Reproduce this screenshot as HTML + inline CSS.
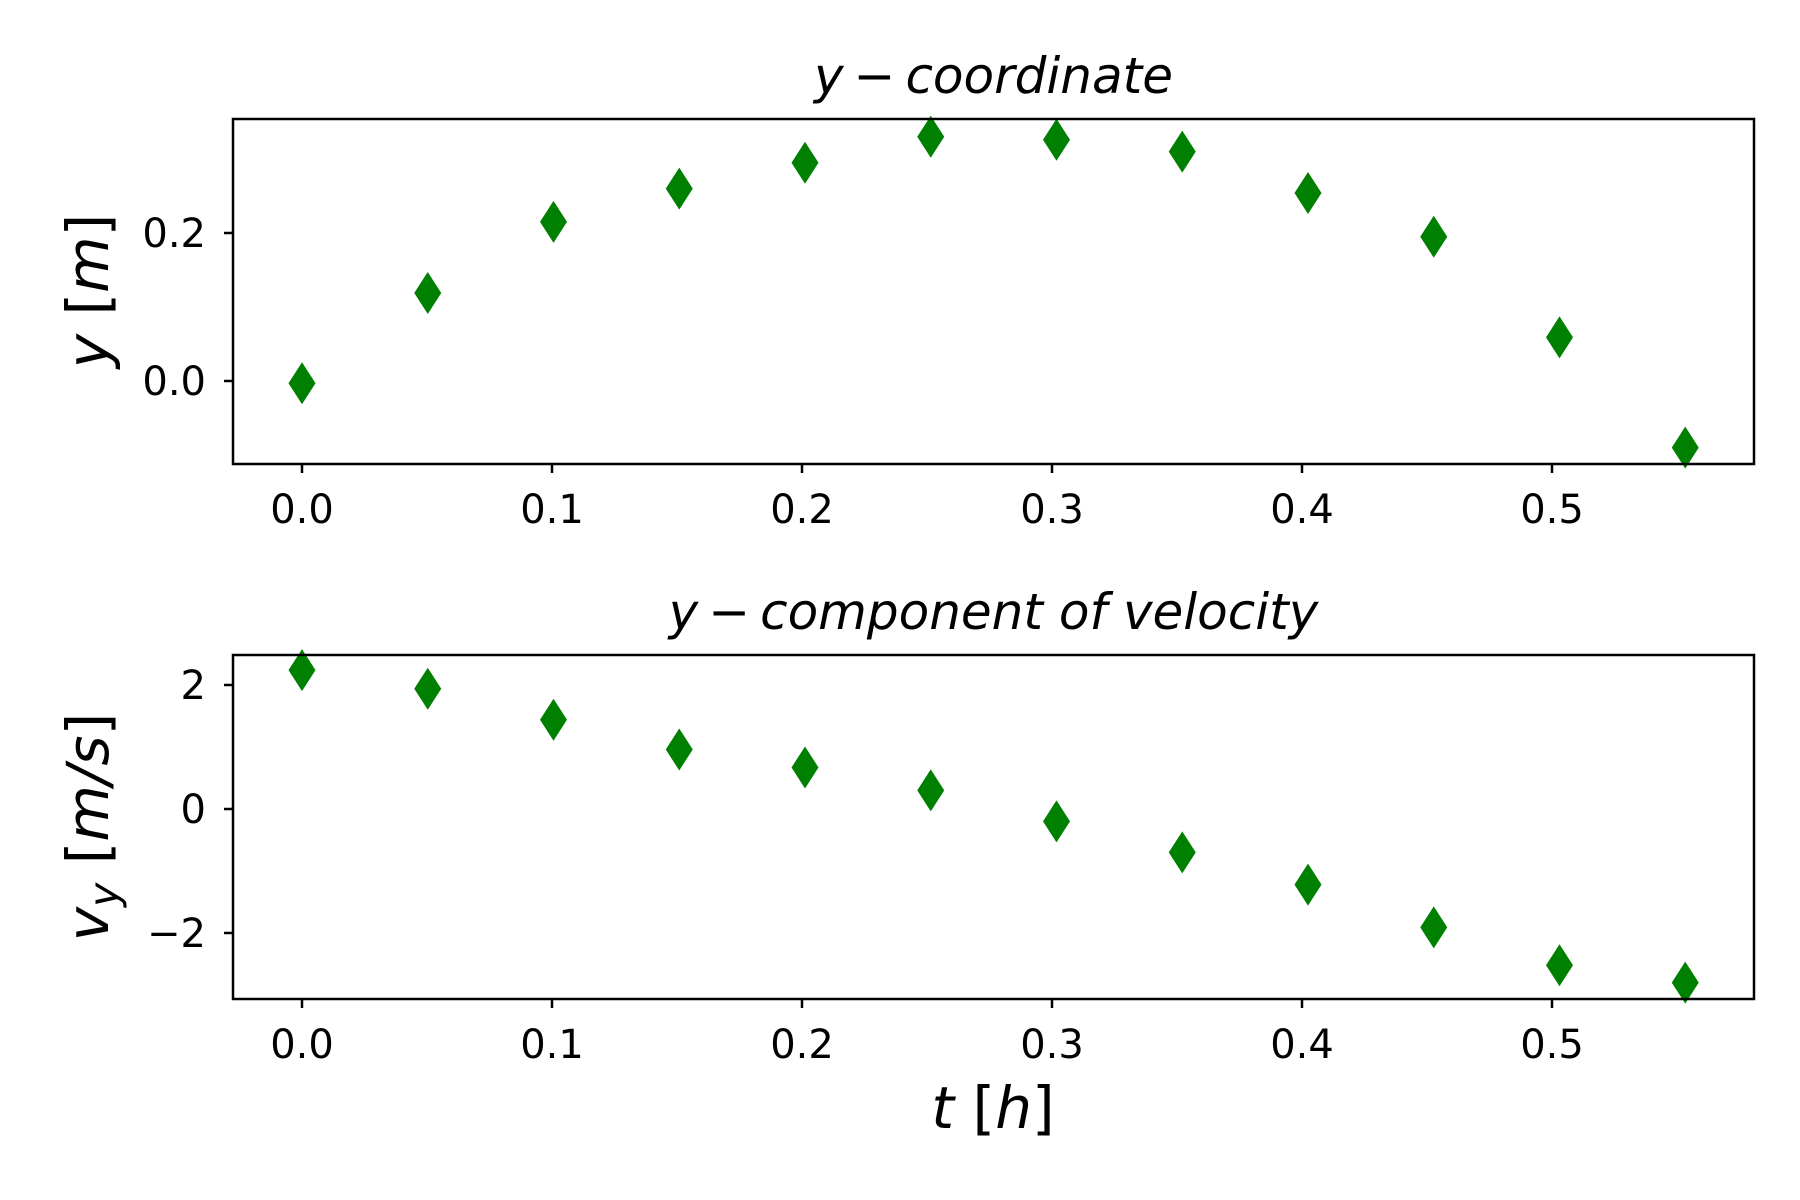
<!DOCTYPE html>
<html><head><meta charset="utf-8"><style>
html,body{margin:0;padding:0;background:#fff;}
svg{display:block;font-family:"DejaVu Sans","Liberation Sans",sans-serif;}
</style></head><body>
<svg id="fig" width="1800" height="1200" viewBox="0 0 1800 1200" xmlns="http://www.w3.org/2000/svg">
<rect width="1800" height="1200" fill="#fff"/>
</svg>
<script>
const tValues = [0, 0.0503, 0.1006, 0.1509, 0.2012, 0.2515, 0.3018, 0.3521, 0.4024, 0.4527, 0.503, 0.5533];
const yValues = [-0.003, 0.119, 0.215, 0.260, 0.295, 0.330, 0.326, 0.310, 0.254, 0.195, 0.059, -0.090];
const vyValues = [2.24, 1.94, 1.44, 0.96, 0.67, 0.30, -0.20, -0.70, -1.22, -1.91, -2.52, -2.80];
const xTicks = [0, 0.1, 0.2, 0.3, 0.4, 0.5];
const xTickLabels = ["0.0","0.1","0.2","0.3","0.4","0.5"];
const yTicksTop = [0, 0.2];
const yTickLabelsTop = ["0.0","0.2"];
const yTicksBot = [-2, 0, 2];
const yTickLabelsBot = ["\u22122","0","2"];

const NS="http://www.w3.org/2000/svg";
const svg=document.getElementById('fig');
function mk(tag,attrs,parent){const e=document.createElementNS(NS,tag);for(const k in attrs)e.setAttribute(k,attrs[k]);(parent||svg).appendChild(e);return e;}
const L=233,R=1754;
const xS=v=>302+v*2500;
function panel(name,top,bot,y0px,pxPerUnit,vals,yt,ytl,title,titleY,tickBase){
  const g=mk('g',{});
  
  
  const yS=v=>y0px-v*pxPerUnit;
  vals.forEach((v,i)=>{
    const cx=xS(tValues[i]),cy=yS(v);
    const p=mk('polygon',{points:`${cx},${cy-21} ${cx+13.5},${cy} ${cx},${cy+21} ${cx-13.5},${cy}`,fill:'#008000'},g);
    
    
  });
  const fr=mk('rect',{x:L,y:top,width:R-L,height:bot-top,fill:'none',stroke:'#000','stroke-width':2.5},g);
  
  
  xTicks.forEach((v,i)=>{
    const x=xS(v);
    mk('line',{x1:x,x2:x,y1:bot,y2:bot+9,stroke:'#000','stroke-width':2.5},g);
    const t=mk('text',{x:x,y:tickBase,'font-size':40,'text-anchor':'middle',fill:'#000'},g);
    t.textContent=xTickLabels[i];
    
    
  });
  yt.forEach((v,i)=>{
    const y=yS(v);
    mk('line',{x1:L-9,x2:L,y1:y,y2:y,stroke:'#000','stroke-width':2.5},g);
    const t=mk('text',{x:L-27,y:y+14,'font-size':40,'text-anchor':'end',fill:'#000'},g);
    t.textContent=ytl[i];
    
    
  });
  const tt=mk('text',{x:(L+R)/2,y:titleY,'font-size':50,'font-style':'italic','text-anchor':'middle',fill:'#000'},g);
  tt.textContent=title;
  
  
  return g;
}
panel('y-coordinate-panel',119,464,381,740,yValues,yTicksTop,yTickLabelsTop,'y\u2009\u2212\u2009coordinate',93,523);
panel('velocity-panel',655,999,809,62,vyValues,yTicksBot,yTickLabelsBot,'y\u2009\u2212\u2009component of velocity',629,1058);

let lab=mk('text',{x:0,y:0,'font-size':58,'text-anchor':'middle',fill:'#000',transform:'translate(108,291) rotate(-90)'});
lab.innerHTML='<tspan font-style="italic">y</tspan> [<tspan font-style="italic">m</tspan>]';


lab=mk('text',{x:0,y:0,'font-size':58,'text-anchor':'middle',fill:'#000',transform:'translate(108,827) rotate(-90)'});
lab.innerHTML='<tspan font-style="italic">v</tspan><tspan font-style="italic" font-size="41" dy="10">y</tspan><tspan dy="-10"> [</tspan><tspan font-style="italic">m/s</tspan>]';


lab=mk('text',{x:993,y:1128,'font-size':58,'text-anchor':'middle',fill:'#000'});
lab.innerHTML='<tspan font-style="italic">t</tspan> [<tspan font-style="italic">h</tspan>]';


</script>
</body></html>
